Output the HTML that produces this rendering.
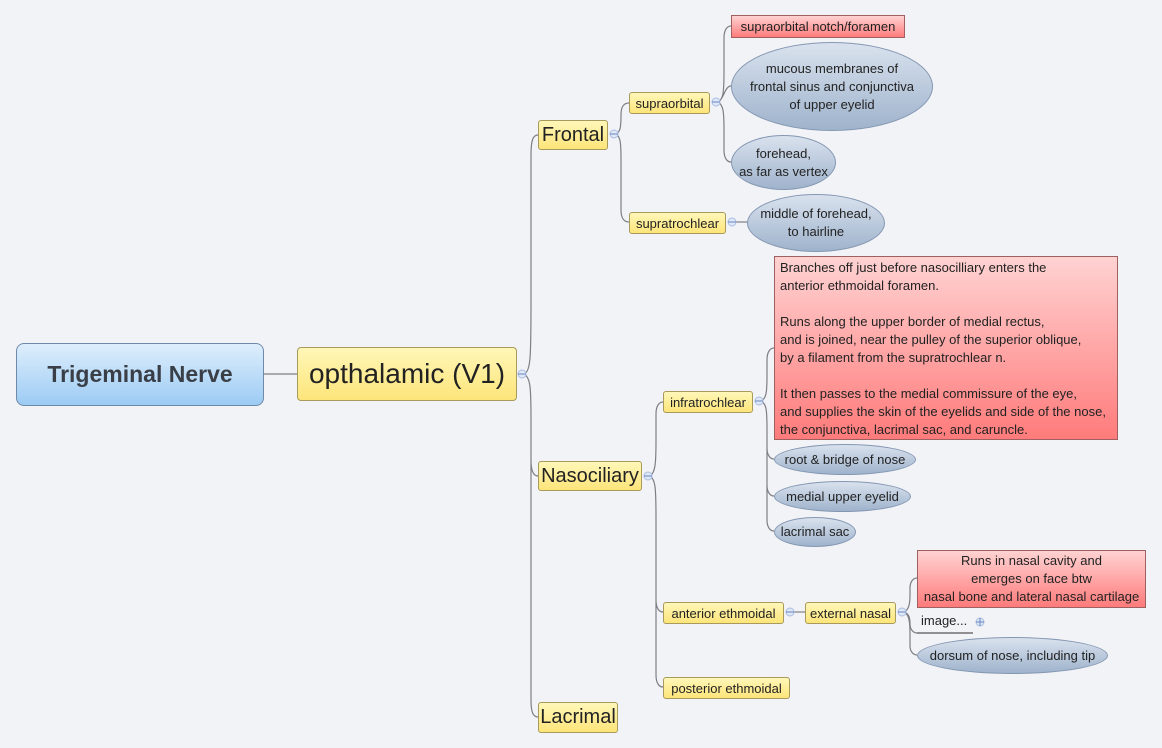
<!DOCTYPE html>
<html><head><meta charset="utf-8"><style>
body{margin:0;width:1162px;height:748px;background:#f2f3f7;position:relative;overflow:hidden;font-family:"Liberation Sans",sans-serif;color:#222}
.n{position:absolute;box-sizing:border-box;display:flex;align-items:center;justify-content:center;text-align:center;white-space:nowrap}
.y{background:linear-gradient(#fff7b8,#fde57a);border:1px solid #a89a5a;border-radius:3px;font-size:13px}
.e{background:linear-gradient(#d9e2ee,#9fb3cc);border:1px solid #8497b2;border-radius:50%;font-size:13px;line-height:18px}
.r{background:linear-gradient(#ffd2d2,#ff7b7b);border:1px solid #a06060;font-size:13px}
svg{position:absolute;left:0;top:0}
</style></head><body>
<svg width="1162" height="748" fill="none" stroke="#7d7f85" stroke-width="1.2">
<path d="M263 374H297"/>
<path d="M522 374C531 374 531 360 531 300L531 155C531 140 533 135 538 135M522 374C531 374 531 390 531 420L531 460C531 470 533 476 538 476M522 374C531 374 531 390 531 420L531 700C531 712 533 717 538 717"/>
<path d="M614 134C621 134 621 125 621 115C621 106 624 103 629 103M614 134C621 134 621 145 621 160L621 210C621 218 624 222 629 222"/>
<path d="M716 102C724 102 724 90 724 70L724 38C724 30 727 26 731 26M716 102C724 102 724 86 731 86M716 102C724 102 724 115 724 130L724 150C724 158 727 162 731 162"/>
<path d="M732 222H747"/>
<path d="M648 476C656 476 656 460 656 440L656 414C656 406 659 402 663 402M648 476C656 476 656 490 656 520L656 600C656 608 659 612 663 612M648 476C656 476 656 490 656 520L656 675C656 683 659 687 663 687"/>
<path d="M759 401C767 401 767 390 767 375L767 360C767 352 770 348 774 348M759 401C767 401 767 412 767 430L767 448C767 455 770 459 774 459M759 401C767 401 767 412 767 430L767 485C767 492 770 496 774 496M759 401C767 401 767 412 767 430L767 520C767 527 770 531 774 531"/>
<path d="M790 612H805"/>
<path d="M902 612C910 612 910 600 910 595L910 588C910 582 913 578 917 578M902 612C910 612 910 620 910 624C910 629 913 633 917 633M902 612C910 612 910 625 910 635L910 646C910 651 913 655 917 655"/>
<path d="M917 633H973" stroke="#555"/>
<g stroke="#a9bde0" fill="#dfe8f6" stroke-width="1">
<circle cx="522" cy="374" r="4"/><circle cx="614" cy="134" r="4"/><circle cx="716" cy="102" r="4"/><circle cx="732" cy="222" r="4"/><circle cx="648" cy="476" r="4"/><circle cx="759" cy="401" r="4"/><circle cx="790" cy="612" r="4"/><circle cx="902" cy="612" r="4"/><circle cx="980" cy="622" r="4"/>
</g>
<g stroke="#6b85c0" stroke-width="1"><path d="M518 374h8M610 134h8M712 102h8M728 222h8M644 476h8M755 401h8M786 612h8M898 612h8M976 622h8M980 618v8"/></g>
</svg>
<div class="n" style="left:16px;top:343px;width:248px;height:63px;border:1px solid #6f8aa8;border-radius:8px;background:linear-gradient(#deeefc,#9ccbf4);font-size:23px;font-weight:bold;color:#3a3f47">Trigeminal Nerve</div>
<div class="n y" style="left:297px;top:347px;width:220px;height:54px;font-size:28px;border-radius:4px">opthalamic (V1)</div>
<div class="n y" style="left:538px;top:120px;width:70px;height:30px;font-size:20px">Frontal</div>
<div class="n y" style="left:538px;top:461px;width:104px;height:30px;font-size:20px">Nasociliary</div>
<div class="n y" style="left:538px;top:702px;width:80px;height:31px;font-size:20px">Lacrimal</div>
<div class="n y" style="left:629px;top:92px;width:81px;height:22px">supraorbital</div>
<div class="n y" style="left:629px;top:212px;width:97px;height:22px">supratrochlear</div>
<div class="n r" style="left:731px;top:15px;width:174px;height:23px">supraorbital notch/foramen</div>
<div class="n e" style="left:731px;top:42px;width:202px;height:89px">mucous membranes of<br>frontal sinus and conjunctiva<br>of upper eyelid</div>
<div class="n e" style="left:731px;top:135px;width:105px;height:55px">forehead,<br>as far as vertex</div>
<div class="n e" style="left:747px;top:194px;width:138px;height:58px">middle of forehead,<br>to hairline</div>
<div class="n r" style="left:774px;top:256px;width:344px;height:184px;display:block;text-align:left;padding:2px 5px;line-height:18px;font-size:13px">Branches off just before nasocilliary enters the<br>anterior ethmoidal foramen.<br><br>Runs along the upper border of medial rectus,<br>and is joined, near the pulley of the superior oblique,<br>by a filament from the supratrochlear n.<br><br>It then passes to the medial commissure of the eye,<br>and supplies the skin of the eyelids and side of the nose,<br>the conjunctiva, lacrimal sac, and caruncle.</div>
<div class="n y" style="left:663px;top:391px;width:90px;height:22px">infratrochlear</div>
<div class="n e" style="left:774px;top:444px;width:142px;height:31px">root &amp; bridge of nose</div>
<div class="n e" style="left:774px;top:481px;width:137px;height:31px">medial upper eyelid</div>
<div class="n e" style="left:774px;top:517px;width:82px;height:30px">lacrimal sac</div>
<div class="n y" style="left:663px;top:602px;width:121px;height:22px">anterior ethmoidal</div>
<div class="n y" style="left:805px;top:602px;width:91px;height:22px">external nasal</div>
<div class="n r" style="left:917px;top:550px;width:229px;height:58px;line-height:18px">Runs in nasal cavity and<br>emerges on face btw<br>nasal bone and lateral nasal cartilage</div>
<div class="n" style="left:921px;top:613px;font-size:13px">image...</div>
<div class="n e" style="left:917px;top:637px;width:191px;height:37px">dorsum of nose, including tip</div>
<div class="n y" style="left:663px;top:677px;width:127px;height:22px">posterior ethmoidal</div>
</body></html>
